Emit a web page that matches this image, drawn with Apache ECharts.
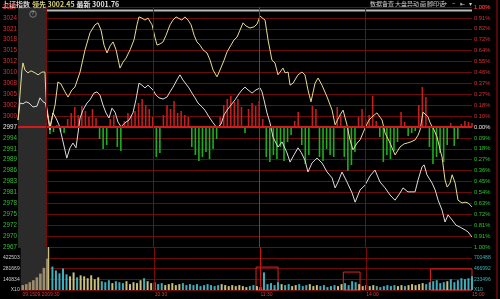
<!DOCTYPE html>
<html><head><meta charset="utf-8">
<script src="https://cdn.jsdelivr.net/npm/echarts@6/dist/echarts.min.js"></script>
<style>html,body{margin:0;padding:0;background:#000;}#c{width:500px;height:299px;}</style>
</head><body><div id="c"></div>
<script>
// ---------- header texts ----------
const indexName = '上证指数';
const leadLabel = '领先', leadValue = '3002.45';
const lastLabel = '最新', lastValue = '3001.76';
const toolbarItems = ['数据备查', '大盘异动', '画', '脚印话', '+', '−', '⇤', '▾'];

// ---------- axis tick labels ----------
const priceLabels = ['3027','3024','3021','3018','3015','3012','3010','3008','3005','3002','3000','2997',
  '2994','2991','2989','2986','2983','2981','2978','2975','2972','2970','2967'];
const pctLabels = ['1.00%','0.91%','0.82%','0.72%','0.64%','0.55%','0.46%','0.37%','0.27%','0.18%','0.10%','0.00%',
  '0.09%','0.18%','0.27%','0.36%','0.45%','0.54%','0.63%','0.72%','0.81%','0.91%','1.00%'];
const volLeftLabels = ['', '422503', '281669', '140834', 'X10'];
const volRightLabels = ['', '700488', '466992', '233496', 'X10'];
const volSteps = [0, 1, 2, 3];
const timeTickValues = [-15, -8, -1, 60, 120, 180, 240];
const timeTickLabels = ['09:15', '09:20', '09:30', '10:30', '11:30', '14:00', '15:00'];
const sessionLines = [0, 60, 120, 180];
const priceMin = 2967.4, priceMax = 3027.9;

// ---------- lead index line (yellow), minutes from 09:30 ----------
const leadTimes = [-16,-14.9,-13.8,-13.2,-12.1,-10.4,-8.7,-6.4,-4.7,-2.5,-0.8,
  0,2,4.9,6.5,8.2,10.5,12.2,14.4,16.1,19,21.8,24.6,27.4,29.1,30.8,32.5,34.2,35.9,37.6,39.3,41.5,43.2,44.9,47.2,49.4,
  51.1,52.2,53.9,55.6,57.3,59.6,61.2,62.4,64.1,65.8,67.5,69.7,71.4,73.1,74.2,76.4,78.1,79.9,81.6,83.3,84.9,86.6,88.3,
  90.6,92.3,94,96.2,97.9,100.2,101.9,104.1,105.8,107.5,109.2,110.9,112.6,114.8,117.1,118.8,120.5,121.6,123.3,125,
  127.2,128.9,130.6,131.7,133.4,134.6,136.3,137.4,139.1,140.8,141.9,144.1,145.8,147.5,149.2,151.5,153.2,155.4,158.3,
  161.1,162.8,163.9,165.6,167.3,169.5,171.2,172.9,175.2,176.9,179.7,181.9,183.6,186.4,189.3,191,193.8,196.6,199.4,
  201.7,203.4,205.6,207.9,209.6,210.7,212.4,213.5,215.2,216.4,218.6,220.3,222,223.1,224.8,226,227.6,228.8,230.5,
  232.1,234.4,236.1,237.8,240];
const leadValues = [2999.4,3005.7,3012.0,3013.8,3012.0,3011.3,3011.8,3011.3,3010.8,3011.5,3011.5,
  3003.2,2997.7,3003.2,3009.0,3008.5,3006.5,3005.2,3007.0,3007.7,3011.5,3017.1,3021.4,3023.4,3023.9,3022.1,3018.3,
  3016.3,3018.1,3019.1,3017.1,3012.5,3014.0,3015.0,3017.1,3019.6,
  3023.4,3025.4,3025.1,3024.6,3025.1,3023.4,3020.3,3018.3,3018.6,3019.1,3020.8,3023.4,3024.6,3025.4,3025.6,3024.6,
  3025.4,3024.6,3023.4,3020.8,3019.1,3018.3,3017.1,
  3016.3,3014.5,3012.0,3010.3,3012.0,3014.5,3016.6,3018.3,3019.6,3020.3,3022.1,3023.9,3023.1,3022.6,3022.9,3023.6,
  3025.6,3025.4,3024.6,3019.6,
  3014.5,3013.8,3010.8,3010.3,3012.5,3011.3,3011.5,3008.2,3008.7,3010.0,3010.8,3011.5,3010.8,3007.0,3004.0,3008.7,
  3010.0,3008.2,3005.2,
  3001.9,2998.2,2997.7,3000.7,3001.9,2998.2,2994.4,2991.9,2993.6,2994.4,2997.4,2999.4,3000.2,3001.2,2999.4,2996.1,
  2993.6,2990.6,2992.6,
  2993.4,2993.6,2993.9,2994.4,2995.6,2996.9,3001.4,3001.9,3000.2,2998.7,2996.9,2995.1,2991.9,2990.1,2984.3,2982.5,
  2983.5,2985.6,2983.5,
  2979.2,2978.5,2978.7,2978.5,2977.5];

// ---------- index line (white) ----------
const indexTimes = [-16,-14.9,-13.2,-11.5,-9.8,-7.6,-5.3,-3.6,-1.9,-0.5,
  0,2,3.7,5.4,7.1,8.8,11.5,13.3,15,16.7,19,20.6,22.9,24.6,26.8,28.5,30.2,31.9,33.6,35.3,37,38.7,40.4,42.1,44.3,
  46.6,48.8,50.5,52.2,53.9,55.6,57.3,58.4,60.1,61.8,63.5,65.8,68,69.7,71.4,73.6,75.3,77,78.7,80.4,82.1,83.8,85.5,
  87.8,89.4,91.7,94,96.2,98.5,100.2,101.9,104.1,106.4,108.6,110.3,112,113.7,116,118.2,120.5,121.6,122.7,124.4,
  126.1,127.8,130.6,132.9,135.7,137.4,139.6,141.9,143.6,145.8,147.5,149.8,152.6,155.4,158.3,161.1,162.8,164.5,
  166.7,169.5,172.4,174.1,176.9,179.7,182.5,185.3,188.1,191,193.8,196.6,199.4,201.1,203.9,207.9,209.6,211.8,213,
  214.6,217.5,219.2,220.9,223.1,224.8,226.5,228.8,231,233.3,236.1,237.8,240];
const indexValues = [2999.4,3003.7,3003.5,3004.0,3003.7,3002.7,3002.9,3005.0,3004.0,3003.7,
  3003.7,2996.9,3001.2,2999.9,2998.2,2995.1,2989.8,2992.4,2993.6,2992.4,2999.9,3001.9,3003.7,3004.5,3006.2,3006.5,
  3005.7,3003.2,3001.2,2999.9,3002.4,3001.4,2998.9,2997.7,2998.7,
  2999.4,3001.2,3004.5,3008.7,3008.2,3007.5,3008.2,3008.2,3007.0,3005.7,3005.0,3004.7,3005.2,3006.5,3007.7,3009.5,
  3010.8,3009.5,3008.5,3007.5,3006.2,3005.0,3003.7,
  3002.7,3001.9,3000.2,2998.7,2997.4,2998.4,3000.7,3001.9,3003.2,3004.5,3006.0,3007.0,3007.7,3007.0,3006.2,3007.0,
  3007.5,3006.5,3004.5,3001.2,
  2998.7,2995.1,2992.6,2993.9,2991.1,2988.8,2990.6,2992.4,2991.3,2989.3,2986.3,2988.6,2989.8,2988.6,2986.3,2984.8,
  2982.3,2983.8,
  2986.3,2983.8,2981.0,2978.7,2981.8,2983.0,2985.3,2986.8,2983.8,2982.3,2980.5,2979.2,2981.0,2982.3,2981.3,2981.3,
  2984.3,2987.6,2988.1,
  2985.6,2983.5,2981.8,2979.2,2976.7,2973.7,2975.5,2974.2,2972.9,2972.4,2971.7,2971.2,2969.9];

// ---------- buy/sell strength bars (every 2 minutes) ----------
const barTimes = [0,2,4,6,8,10,12,14,16,18,20,22,24,26,28,30,32,34,36,38,40,42,44,46,48,50,52,54,56,58,
  60,62,64,66,68,70,72,74,76,78,80,82,84,86,88,90,92,94,96,98,100,102,104,106,108,110,112,114,116,118,
  120,122,124,126,128,130,132,134,136,138,140,142,144,146,148,150,152,154,156,158,160,162,164,166,168,170,172,174,176,178,
  180,182,184,186,188,190,192,194,196,198,200,202,204,206,208,210,212,214,216,218,220,222,224,226,228,230,232,234,236,238,240];
const strength = [3,-7,-5,2,-5,-6,8,14,20,12,
  21,16,10,18,9,-12,-22,-18,8,12,
  -20,-24,6,14,12,16,24,28,22,18,
  10,-30,-26,12,22,18,26,14,16,12,
  10,-20,-28,-34,-30,-25,-32,-22,-12,10,
  22,28,31,25,28,20,-6,18,24,21,
  26,8,-30,-35,-28,-32,-20,-34,-15,-8,
  6,15,-18,-37,-28,21,18,-30,-34,-22,
  -28,-30,20,12,-30,-44,-38,-25,10,18,
  8,12,31,6,-10,-35,-28,-32,-24,-15,
  15,5,-9,-6,-4,22,40,30,-20,-37,
  -30,-26,-35,-18,4,-19,-12,3,6,5,
  4];

// ---------- volume (thousand shares) ----------
const preTimes = [-15,-13,-11,-9,-7,-5,-3,-1];
const preVolume = [64,77,102,128,166,215,290,410];
const volume = [563,307,256,218,282,205,179,230,166,192,
  179,154,192,141,166,115,102,128,90,115,
  102,90,115,77,102,90,128,154,115,90,
  102,77,90,64,77,90,64,77,90,64,
  77,64,77,51,64,77,64,51,64,77,
  64,51,64,51,64,51,38,51,64,51,
  38,230,77,90,64,102,77,64,77,51,
  64,77,51,64,77,51,64,51,64,38,
  51,64,51,77,90,64,115,102,77,51,
  64,51,64,51,38,51,64,51,64,51,
  64,51,64,77,64,77,90,77,102,115,
  128,90,102,115,141,102,128,154,141,154,
  179];
const volMax = 563;
// highlighted boxes: [fromMinute, toMinute, topVolume]
const highlightBoxes = [[117.5, 130, 300], [167, 176.5, 235], [216.5, 243, 275]];

// ---------- colours ----------
const RED = '#d83030', GREEN = '#2cc22c', WHITE = '#e6e6e6';
const GRID = '#6e0b0b';
const C_LEAD = '#e6dc92', C_INDEX = '#dcdcdc';
const VOL_UP = '#c9c07c', VOL_DOWN = '#3eaebc', VOL_PRE = '#9c8c6c';
const FONT = 'Liberation Sans';

function indexTrend(t) {
  for (let i = 1; i < indexTimes.length; i++) if (indexTimes[i] >= t) return indexValues[i] - indexValues[i - 1];
  return 0;
}
const pairs = (ts, vs) => ts.map((t, i) => [t, vs[i]]);
const signColor = v => (v > 0 ? RED : v < 0 ? GREEN : WHITE);

const chart = echarts.init(document.getElementById('c'), null, {renderer: 'canvas'});
const toolbarX = [370, 395, 420, 427, 444, 452, 460, 469];

const option = {
  backgroundColor: '#000',
  animation: false,
  title: {
    left: 2, top: 0, padding: 0,
    text: `{a|${indexName}} {b|${leadLabel} ${leadValue}} {c|${lastLabel} ${lastValue}}`,
    textStyle: {
      fontSize: 7, lineHeight: 8,
      rich: {
        a: {color: '#cfcfcf', fontSize: 7, fontFamily: 'Noto Sans CJK SC'},
        b: {color: '#d9d27a', fontSize: 7, fontFamily: 'Noto Sans CJK SC'},
        c: {color: '#e4e4e4', fontSize: 7, fontFamily: 'Noto Sans CJK SC'}
      }
    }
  },
  graphic: [
    ...toolbarItems.map((s, i) => ({
      type: 'text', left: toolbarX[i], top: 1,
      style: {text: s, fill: '#cdcdcd', fontSize: 6, fontFamily: 'Noto Sans CJK SC'}
    })),
    // top row tick labels (ensured visible)
    {type: 'text', x: 17, y: 7, z: 30, style: {text: priceLabels[0], fill: RED, fontSize: 6.3, fontFamily: FONT, align: 'right', verticalAlign: 'middle'}},
    {type: 'text', x: 474, y: 7, z: 30, style: {text: pctLabels[0], fill: RED, fontSize: 5.8, fontFamily: FONT, align: 'left', verticalAlign: 'middle'}},
    {type: 'circle', shape: {cx: 33, cy: 14, r: 3.3}, style: {fill: 'none', stroke: '#8c8c8c', lineWidth: 0.8}, z: 50},
    {type: 'text', left: 31.2, top: 10.5, style: {text: '?', fill: '#a8a8a8', fontSize: 5.5, fontFamily: FONT}, z: 50},
    {type: 'rect', shape: {x: 496, y: 0, width: 2, height: 299}, style: {fill: '#520808'}, z: 50}
  ],
  grid: [
    {left: 18, right: 28, top: 7, height: 240},
    {left: 18, right: 28, top: 247, height: 43}
  ],
  xAxis: [
    {gridIndex: 0, type: 'value', min: -16, max: 240, axisLine: {show: false}, axisTick: {show: false},
      axisLabel: {show: false}, splitLine: {show: false}},
    {gridIndex: 1, type: 'value', min: -16, max: 240, axisLine: {show: false}, axisTick: {show: false},
      splitLine: {show: false},
      axisLabel: {customValues: timeTickValues, formatter: v => timeTickLabels[timeTickValues.indexOf(v)] || '',
        color: '#e03a3a', fontSize: 5, fontFamily: FONT, align: 'left', margin: 2}}
  ],
  yAxis: [
    {gridIndex: 0, type: 'value', min: -11, max: 11, interval: 1, position: 'left',
      axisLine: {show: false}, axisTick: {show: false},
      splitLine: {show: true, lineStyle: {color: GRID, width: 1}},
      axisLabel: {formatter: v => priceLabels[11 - Math.round(v)], color: v => signColor(Number(v)),
        fontSize: 6.3, fontFamily: FONT, margin: 1, showMinLabel: true, showMaxLabel: true}},
    {gridIndex: 0, type: 'value', min: -11, max: 11, interval: 1, position: 'right',
      axisLine: {show: false}, axisTick: {show: false}, splitLine: {show: false},
      axisLabel: {formatter: v => pctLabels[11 - Math.round(v)], color: v => signColor(Number(v)),
        fontSize: 5.8, fontFamily: FONT, margin: 2, showMinLabel: true, showMaxLabel: true}},
    {gridIndex: 0, type: 'value', min: priceMin, max: priceMax, show: false},
    {gridIndex: 0, type: 'value', min: -120, max: 120, show: false},
    {gridIndex: 1, type: 'value', min: 0, max: 4, interval: 1, position: 'left',
      axisLine: {show: false}, axisTick: {show: false},
      splitLine: {show: true, lineStyle: {color: GRID, width: 1}},
      axisLabel: {customValues: volSteps, formatter: v => volLeftLabels[4 - Math.round(v)], color: '#cfcfcf',
        fontSize: 5, fontFamily: FONT, margin: 1}},
    {gridIndex: 1, type: 'value', min: 0, max: 4, interval: 1, position: 'right',
      axisLine: {show: false}, axisTick: {show: false}, splitLine: {show: false},
      axisLabel: {customValues: volSteps, formatter: v => volRightLabels[4 - Math.round(v)], color: '#3fb2b8',
        fontSize: 5, fontFamily: FONT, margin: 2}},
    {gridIndex: 1, type: 'value', min: 0, max: volMax, show: false}
  ],
  series: [
    {
      name: 'strength', type: 'bar', xAxisIndex: 0, yAxisIndex: 3, z: 1,
      barWidth: 1.6, barGap: '-100%',
      data: barTimes.map((t, i) => ({value: [t, strength[i]], itemStyle: {color: strength[i] >= 0 ? '#c41e1e' : '#1fae1f'}})),
      markArea: {silent: true, z: 0,
        data: [[{xAxis: -16, itemStyle: {color: '#2b2b2b'}}, {xAxis: 0}]]},
      markLine: {silent: true, symbol: 'none', label: {show: false},
        data: [{yAxis: 0, lineStyle: {color: '#d41a1a', width: 2, type: 'solid'}}]}
    },
    {
      name: 'index', type: 'line', xAxisIndex: 0, yAxisIndex: 2, z: 3,
      data: pairs(indexTimes, indexValues), showSymbol: false, symbol: 'none',
      lineStyle: {color: C_INDEX, width: 1},
      markArea: {silent: true,
        data: [[{coord: [0, 3027.27], itemStyle: {color: '#b9b9b9'}}, {coord: [240, 3026.77]}]]},
      markLine: {silent: true, symbol: 'none', label: {show: false},
        data: sessionLines.map(t => ({xAxis: t, lineStyle: {color: t === 120 ? '#c81616' : '#7c0c0c', width: 1, type: 'solid'}}))}
    },
    {
      name: 'lead', type: 'line', xAxisIndex: 0, yAxisIndex: 2, z: 4,
      data: pairs(leadTimes, leadValues), showSymbol: false, symbol: 'none',
      lineStyle: {color: C_LEAD, width: 1}
    },
    {
      name: 'preVolume', type: 'bar', xAxisIndex: 1, yAxisIndex: 6, z: 2,
      barWidth: 2.6, data: pairs(preTimes, preVolume), itemStyle: {color: VOL_PRE},
      markArea: {silent: true, z: 0, data: [[{xAxis: -16, itemStyle: {color: '#2b2b2b'}}, {xAxis: 0}]]}
    },
    {
      name: 'volume', type: 'bar', xAxisIndex: 1, yAxisIndex: 6, z: 2,
      barWidth: 2, barGap: '-100%',
      data: barTimes.map((t, i) => ({value: [t, volume[i]], itemStyle: {color: indexTrend(t) >= 0 ? VOL_UP : VOL_DOWN}})),
      markArea: {silent: true,
        itemStyle: {color: 'rgba(0,0,0,0)', borderColor: '#e02424', borderWidth: 1},
        data: highlightBoxes.map(b => [{coord: [b[0], b[2]]}, {coord: [b[1], 0]}])},
      markLine: {silent: true, symbol: 'none', label: {show: false},
        data: sessionLines.map(t => ({xAxis: t, lineStyle: {color: t === 120 ? '#c81616' : '#7c0c0c', width: 1, type: 'solid'}}))}
    }
  ]
};
chart.setOption(option);
</script>
</body></html>
